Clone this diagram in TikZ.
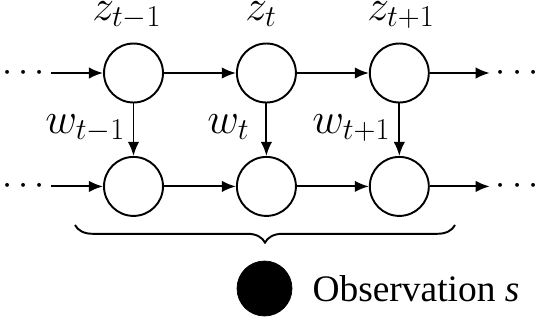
\documentclass[tikz,border=0pt]{standalone}
\usepackage[no-math]{fontspec}
\setmainfont{Liberation Serif}
\usetikzlibrary{positioning}
\usetikzlibrary{arrows.meta}
\usetikzlibrary{decorations.pathreplacing}

\begin{document}
\begin{tikzpicture}[
    x=0.02cm, y=-0.02cm,
    >={Latex[length=8pt,width=6.5pt]},
    node distance=1.05cm and 1.44cm,
    every node/.style={font=\fontsize{23}{28}\selectfont},
    state/.style={draw, circle, line width=1.1pt, minimum size=1.18cm, inner sep=0pt},
    obs/.style={draw, circle, fill=black, minimum size=1.1cm, inner sep=0pt},
    varlabel/.style={anchor=base west, inner sep=0pt},
    link/.style={->, line width=1.1pt}
]
\useasboundingbox (0,0) rectangle (540,318);
% hidden chain
\node[state] (z1) at (133.5,73) {};
\node[state, right=of z1] (z2) {};
\node[state, right=of z2] (z3) {};
% lower chain
\node[state, below=of z1] (b1) {};
\node[state, right=of b1] (b2) {};
\node[state, right=of b2] (b3) {};
% dots
\node[left=1.04cm of z1, font=\fontsize{20}{24}\selectfont] (zl) {$\cdots$};
\node[right=1.2cm of z3, font=\fontsize{20}{24}\selectfont] (zr) {$\cdots$};
\node[left=1.04cm of b1, font=\fontsize{20}{24}\selectfont] (bl) {$\cdots$};
\node[right=1.2cm of b3, font=\fontsize{20}{24}\selectfont] (br) {$\cdots$};
% labels
\node[varlabel] (lz1) at (92,20) {$z_{t-1}$};
\node[varlabel] (lz2) at (245,20) {$z_t$};
\node[varlabel] (lz3) at (367,20) {$z_{t+1}$};
\node[varlabel] (lw1) at (45,133) {$w_{t-1}$};
\node[varlabel] (lw2) at (207,133) {$w_t$};
\node[varlabel] (lw3) at (312,133) {$w_{t+1}$};
% observation
\node[obs] (obs) at (264.5,288.5) {};
\node[right=0.28cm of obs, font=\fontsize{21.3}{24}\selectfont] (obstext) {Observation \textit{s}};
\coordinate (brl) at (75,225);
\coordinate (brr) at (455,225);

\draw[link] (zl) -- (z1);
\draw[link] (z1) -- (z2);
\draw[link] (z2) -- (z3);
\draw[link] (z3) -- (zr);
\draw[link] (bl) -- (b1);
\draw[link] (b1) -- (b2);
\draw[link] (b2) -- (b3);
\draw[link] (b3) -- (br);
\draw[link] (z1) -- (b1);
\draw[link] (z2) -- (b2);
\draw[link] (z3) -- (b3);
\draw[line width=1.1pt, decorate, decoration={brace, mirror, amplitude=10pt}] (brl) -- (brr);
\end{tikzpicture}
\end{document}
